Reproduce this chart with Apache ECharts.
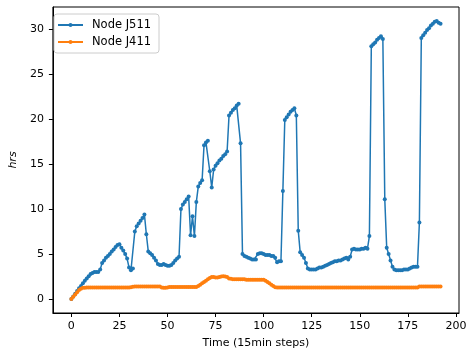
<!DOCTYPE html>
<html><head><meta charset="utf-8">
<script src="https://cdn.jsdelivr.net/npm/echarts@6/dist/echarts.min.js"></script>
<style>html,body{margin:0;padding:0;background:#fff}#c{width:474px;height:357px}</style>
</head><body><div id="c"></div>
<script>
const xTicks = [0, 25, 50, 75, 100, 125, 150, 175, 200];
const yTicks = [0, 5, 10, 15, 20, 25, 30];
const seriesNames = ['Node J511', 'Node J411'];
const nodeJ511 = [
  0.0, 0.3, 0.6, 0.9, 1.2, 1.45, 1.75, 2.05, 2.3, 2.55, 2.8,
  2.9, 3.0, 3.0, 3.0, 3.3, 4.0, 4.3, 4.6, 4.8, 5.0,
  5.3, 5.5, 5.8, 6.0, 6.1, 5.7, 5.4, 5.0, 4.5, 3.5,
  3.2, 3.4, 7.5, 8.1, 8.4, 8.7, 9.0, 9.4, 7.2, 5.3,
  5.1, 4.9, 4.6, 4.3, 3.9, 3.8, 3.8, 3.9, 3.8, 3.7,
  3.7, 3.8, 4.0, 4.3, 4.5, 4.7, 10.0, 10.5, 10.8, 11.1,
  11.4, 7.1, 9.2, 7.0, 10.8, 12.5, 12.9, 13.2, 17.1, 17.4,
  17.6, 14.2, 12.4, 14.4, 14.8, 15.1, 15.4, 15.6, 15.9, 16.1,
  16.4, 20.4, 20.7, 21.0, 21.2, 21.5, 21.7, 17.3, 5.0, 4.8,
  4.7, 4.6, 4.5, 4.4, 4.4, 4.4, 5.0, 5.1, 5.1, 5.0,
  4.9, 4.9, 4.9, 4.8, 4.8, 4.6, 4.1, 4.2, 4.2, 12.0,
  19.9, 20.2, 20.5, 20.8, 21.0, 21.2, 20.4, 7.6, 5.2, 4.9,
  4.6, 4.0, 3.4, 3.3, 3.3, 3.3, 3.3, 3.4, 3.5, 3.5,
  3.6, 3.7, 3.8, 3.9, 4.0, 4.1, 4.2, 4.2, 4.3, 4.3,
  4.4, 4.5, 4.6, 4.4, 4.7, 5.5, 5.6, 5.5, 5.5, 5.5,
  5.6, 5.6, 5.7, 5.6, 7.0, 28.1, 28.3, 28.5, 28.8, 29.0,
  29.2, 28.9, 11.1, 5.7, 5.0, 4.3, 3.6, 3.3, 3.2, 3.2,
  3.2, 3.2, 3.3, 3.3, 3.3, 3.4, 3.5, 3.6, 3.6, 3.6,
  8.5, 29.0, 29.3, 29.6, 29.9, 30.1, 30.4, 30.6, 30.8, 30.9,
  30.7, 30.6
];
const nodeJ411 = [
  0.0, 0.25, 0.5, 0.75, 1.0, 1.15, 1.25, 1.27, 1.28, 1.28, 1.28,
  1.3, 1.3, 1.3, 1.3, 1.3, 1.3, 1.3, 1.3, 1.3, 1.3,
  1.3, 1.3, 1.3, 1.3, 1.3, 1.3, 1.3, 1.3, 1.3, 1.3,
  1.32, 1.38, 1.4, 1.4, 1.4, 1.4, 1.4, 1.4, 1.4, 1.4,
  1.4, 1.4, 1.4, 1.4, 1.4, 1.4, 1.3, 1.25, 1.25, 1.3,
  1.35, 1.35, 1.35, 1.35, 1.35, 1.35, 1.35, 1.35, 1.35, 1.35,
  1.35, 1.35, 1.35, 1.35, 1.35, 1.45, 1.6, 1.75, 1.9, 2.05,
  2.2, 2.35, 2.45, 2.45, 2.4, 2.4, 2.45, 2.5, 2.55, 2.5,
  2.45, 2.3, 2.25, 2.2, 2.2, 2.2, 2.2, 2.2, 2.2, 2.2,
  2.15, 2.15, 2.15, 2.15, 2.15, 2.15, 2.15, 2.15, 2.15, 2.15,
  2.05, 1.9, 1.75, 1.6, 1.45, 1.32, 1.3, 1.3, 1.3, 1.3,
  1.3, 1.3, 1.3, 1.3, 1.3, 1.3, 1.3, 1.3, 1.3, 1.3,
  1.3, 1.3, 1.3, 1.3, 1.3, 1.3, 1.3, 1.3, 1.3, 1.3,
  1.3, 1.3, 1.3, 1.3, 1.3, 1.3, 1.3, 1.3, 1.3, 1.3,
  1.3, 1.3, 1.3, 1.3, 1.3, 1.3, 1.3, 1.3, 1.3, 1.3,
  1.3, 1.3, 1.3, 1.3, 1.3, 1.3, 1.3, 1.3, 1.3, 1.3,
  1.3, 1.3, 1.3, 1.3, 1.3, 1.3, 1.3, 1.3, 1.3, 1.3,
  1.3, 1.3, 1.3, 1.3, 1.3, 1.3, 1.3, 1.3, 1.3, 1.3,
  1.4, 1.4, 1.4, 1.4, 1.4, 1.4, 1.4, 1.4, 1.4, 1.4,
  1.4, 1.4
];
const colors = ['#1f77b4', '#ff7f0e'];
const font = 'DejaVu Sans';

function toPoints(arr) { return arr.map((v, i) => [i, v]); }

const chart = echarts.init(document.getElementById('c'), null, { renderer: 'canvas' });
const axisCommon = {
  type: 'value',
  splitLine: { show: false },
  axisLine: { show: true, onZero: false, lineStyle: { color: '#000', width: 1 } },
  nameLocation: 'middle',
  nameTextStyle: { color: '#000', fontSize: 11, fontFamily: font }
};
chart.setOption({
  animation: false,
  textStyle: { fontFamily: font },
  grid: { left: 48, right: 15, top: 7, bottom: 44, show: true, borderColor: '#000', borderWidth: 1, backgroundColor: 'transparent' },
  legend: {
    data: seriesNames,
    orient: 'vertical',
    left: 54, top: 14,
    padding: [5, 8, 5, 3],
    itemGap: 5,
    itemWidth: 25, itemHeight: 5,
    backgroundColor: 'rgba(255,255,255,0.8)',
    borderColor: '#cccccc', borderWidth: 1, borderRadius: 3,
    textStyle: { color: '#000', fontSize: 11.5, fontFamily: font, padding: [0, 0, 0, 4] }
  },
  xAxis: Object.assign({}, axisCommon, {
    min: -9.6, max: 201.6,
    name: 'Time (15min steps)', nameGap: 25,
    axisTick: { show: true, length: 4, customValues: xTicks, lineStyle: { color: '#000' } },
    axisLabel: { customValues: xTicks, color: '#000', fontSize: 11, fontFamily: font, margin: 8 }
  }),
  yAxis: Object.assign({}, axisCommon, {
    min: -1.545, max: 32.45,
    name: 'hrs', nameGap: 30,
    nameTextStyle: { color: '#000', fontSize: 11, fontFamily: font, fontStyle: 'italic' },
    axisTick: { show: true, length: 4, customValues: yTicks, lineStyle: { color: '#000' } },
    axisLabel: { customValues: yTicks, color: '#000', fontSize: 11, fontFamily: font, margin: 9 }
  }),
  series: [
    { name: seriesNames[0], type: 'line', data: toPoints(nodeJ511), symbol: 'circle', symbolSize: 4, showSymbol: true,
      lineStyle: { color: colors[0], width: 1.5 }, itemStyle: { color: colors[0] }, emphasis: { disabled: true } },
    { name: seriesNames[1], type: 'line', data: toPoints(nodeJ411), symbol: 'circle', symbolSize: 4, showSymbol: true,
      lineStyle: { color: colors[1], width: 1.5 }, itemStyle: { color: colors[1] }, emphasis: { disabled: true } }
  ]
});
</script>
</body></html>
